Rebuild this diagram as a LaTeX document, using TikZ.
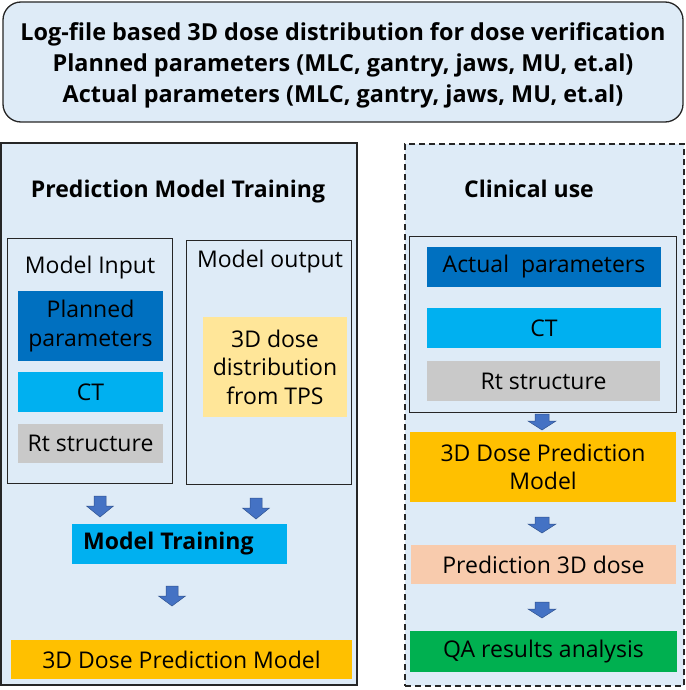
\documentclass[tikz,border=0pt]{standalone}
\usepackage{fontspec}
\setmainfont{Open Sans}
\definecolor{bgblue}{HTML}{DEEBF7}
\definecolor{dkblue}{HTML}{0070C0}
\definecolor{ltblue}{HTML}{00B0F0}
\definecolor{gry}{HTML}{C9C9C9}
\definecolor{ltyel}{HTML}{FFE699}
\definecolor{orng}{HTML}{FFC000}
\definecolor{peach}{HTML}{F8CBAD}
\definecolor{grn}{HTML}{00B050}
\definecolor{arrfill}{HTML}{4472C4}
\definecolor{arrline}{HTML}{2F528F}
\definecolor{frame}{HTML}{262626}
\tikzset{
  x=1pt, y=-1pt,
  fbox/.style={rectangle, inner sep=0pt, align=center, font=\fontsize{23}{28.5}\selectfont, text=black},
  panel/.style={rectangle, draw=frame, line width=1.3pt, fill=bgblue, inner sep=0pt},
  subpanel/.style={rectangle, draw=frame, line width=1pt, inner sep=0pt},
  lbl/.style={inner sep=0pt, font=\fontsize{23}{28}\selectfont},
  ttl/.style={inner sep=0pt, font=\bfseries\fontsize{23}{28}\selectfont},
  pics/barr/.style n args={4}{code={
    \filldraw[fill=arrfill, draw=arrline, line width=0.5pt]
      (-#3/2,0) -- (#3/2,0) -- (#3/2,#1-#2) -- (#4/2,#1-#2) -- (0,#1)
      -- (-#4/2,#1-#2) -- (-#3/2,#1-#2) -- cycle;
  }},
}
\begin{document}
\begin{tikzpicture}
\useasboundingbox (0,0) rectangle (685,690);
% top box
\node[rectangle, rounded corners=18pt, draw=frame, line width=1.3pt, fill=bgblue,
  minimum width=680pt, minimum height=120pt, inner sep=0pt] (top) at (343,62) {};
\node[inner sep=0pt, align=center, font=\bfseries\fontsize{23.4}{31}\selectfont] (toptxt) at (343,65)
  {Log-file based 3D dose distribution for dose verification\\
   Planned parameters (MLC, gantry, jaws, MU, et.al)\\
   Actual parameters (MLC, gantry, jaws, MU, et.al)};
% left panel
\node[panel, minimum width=356pt, minimum height=542pt] (left) at (179,414) {};
\node[ttl] (ltitle) at (178,192) {Prediction Model Training};
\node[subpanel, minimum width=165pt, minimum height=245pt] (inbox) at (89.5,360.5) {};
\node[subpanel, minimum width=165pt, minimum height=244pt] (outbox) at (268.5,362) {};
\node[lbl] (inlbl) at (90,268) {Model Input};
\node[lbl] (outlbl) at (270,262) {Model output};
\node[fbox, fill=dkblue, minimum width=145pt, minimum height=70pt] (plan) at (90.5,326) {Planned\\parameters};
\node[fbox, fill=ltblue, minimum width=145pt, minimum height=40pt] (ctl) at (90.5,392) {CT};
\node[fbox, fill=gry, minimum width=145pt, minimum height=39pt] (rtl) at (90.5,443.5) {Rt structure};
\node[fbox, fill=ltyel, minimum width=144pt, minimum height=100pt] (tps) at (275,367) {3D dose\\distribution\\from TPS};
\pic (a1) at (100,496) {barr={21}{11}{12}{27}};
\pic (a2) at (256,498) {barr={21}{11}{12}{27}};
\node[fbox, fill=ltblue, minimum width=215pt, minimum height=40pt] (train) at (179.5,544) {};
\node[ttl, anchor=west] (traintxt) at (83,544) {Model Training};
\pic (a3) at (172,586) {barr={20}{10}{12}{27}};
\node[fbox, fill=orng, minimum width=341pt, minimum height=39pt] (pmL) at (181.5,659.5) {3D Dose Prediction Model};
% right panel
\node[rectangle, draw=frame, line width=1.5pt, dash pattern=on 6pt off 4pt, fill=bgblue, inner sep=0pt,
  minimum width=279pt, minimum height=542pt] (right) at (544.5,415) {};
\node[ttl] (rtitle) at (529,189) {Clinical use};
\node[subpanel, minimum width=267pt, minimum height=176pt] (cin) at (542.5,324) {};
\node[fbox, fill=dkblue, minimum width=234pt, minimum height=40pt] (act) at (544,267) {Actual\ \ parameters};
\node[fbox, fill=ltblue, minimum width=234pt, minimum height=40pt] (ctr) at (544,328) {CT};
\node[fbox, fill=gry, minimum width=233pt, minimum height=40pt] (rtr) at (543.5,381) {Rt structure};
\pic (b1) at (542,414) {barr={16}{9}{14}{28}};
\node[fbox, fill=orng, minimum width=266pt, minimum height=70pt] (pmR) at (543,467) {3D Dose Prediction\\Model};
\pic (b2) at (542,517) {barr={16}{9}{14}{28}};
\node[fbox, fill=peach, minimum width=265pt, minimum height=39pt] (pred) at (543.5,564.5) {Prediction 3D dose};
\pic (b3) at (542,602) {barr={16}{9}{14}{28}};
\node[fbox, fill=grn, minimum width=267pt, minimum height=41pt] (qa) at (543.5,651.5) {QA results analysis};
\end{tikzpicture}
\end{document}
